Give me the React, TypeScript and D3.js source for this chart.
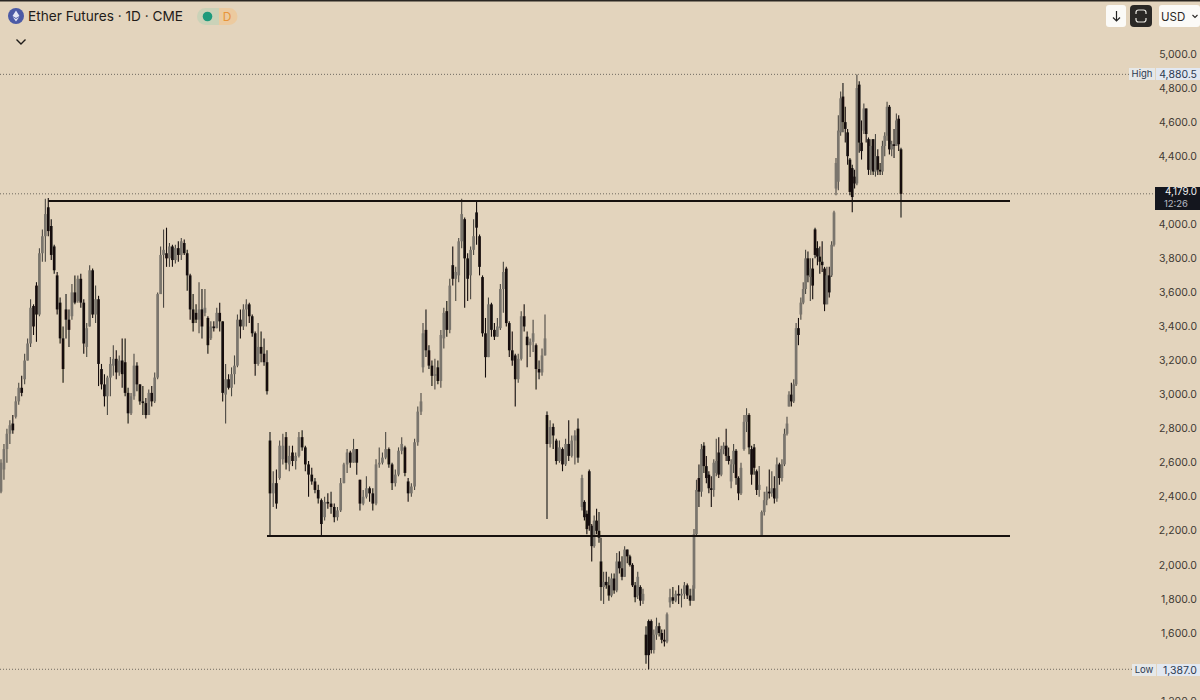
import React from 'react';
import * as d3 from 'd3';

type Bar = [number, number, number, number]; // open, high, low, close

// first climb and the range after it, up to the gap down
const legA: Bar[] = [
  [2430,2620,2420,2600],[2560,2710,2500,2680],[2680,2800,2600,2770],[2770,2850,2710,2820],[2830,2880,2770,2790],
  [2870,2990,2860,2960],[2960,3070,2940,3040],[3040,3110,2990,3010],[3090,3240,3060,3200],[3200,3330,3200,3300],
  [3300,3560,3280,3510],[3520,3530,3350,3400],[3640,3660,3310,3470],[3470,3860,3460,3830],[3830,3970,3780,3930],
  [3930,4150,3780,4060],[4100,4155,3930,3960],[3990,4030,3790,3820],[3870,3880,3710,3730],[3700,3720,3470,3500],
  [3540,3570,3300,3330],[3330,3400,3070,3150],[3500,3590,3330,3440],[3440,3500,3280,3380],[3460,3650,3440,3600],
  [3600,3700,3530,3540],[3550,3700,3540,3680],[3680,3710,3510,3540],[3540,3560,3240,3300],[3280,3420,3220,3390],
  [3400,3760,3400,3730],[3730,3740,3450,3470],[3470,3640,3420,3560],[3560,3580,3050,3180],[3150,3180,3030,3060],
  [3060,3120,2930,2990],[2990,3110,2880,3100],[3100,3220,2990,3180],[3170,3290,3110,3210],[3210,3260,3090,3130],
  [3130,3230,3110,3200],[3200,3330,3040,3120],[3190,3330,2990,3010],[3010,3040,2830,2890],[2890,3010,2880,2990],
  [2990,3240,2970,3170],[3170,3190,3020,3060],[3060,3060,2940,2960],[2960,3050,2880,2950],[2950,2980,2860,2880],
  [2880,3030,2880,3010],[3010,3050,2930,2960],[2960,3130,2950,3100],[3100,3600,3090,3590],[3590,3870,3590,3820],
  [3820,3970,3510,3850],[3830,3980,3750,3800],[3800,3890,3750,3870],[3870,3880,3750,3790],[3790,3880,3770,3860],
  [3860,3900,3780,3820],[3820,3920,3790,3900],[3890,3910,3820,3830],[3830,3850,3610,3700],[3700,3710,3440,3500],
  [3500,3590,3370,3420],[3480,3530,3420,3440],[3440,3660,3360,3500],[3500,3620,3330,3400],[3480,3620,3460,3510],
  [3450,3460,3240,3290],[3330,3430,3320,3400],[3400,3430,3370,3390],[3390,3510,3390,3480],[3480,3540,3370,3430],
  [3430,3430,2960,3010],[3000,3180,2830,3090],[3090,3120,3030,3040],[3040,3160,2990,3120],[3120,3230,3060,3170],
  [3170,3470,3160,3440],[3440,3500,3330,3400],[3400,3530,3380,3500],[3500,3560,3400,3530],[3530,3540,3420,3460],
  [3460,3470,3340,3360],[3360,3370,3110,3180],[3180,3420,3170,3280],[3280,3370,3190,3240],[3240,3330,3170,3190],
  [3190,3260,3000,3020],
];

const legB: Bar[] = [
  [2730,2780,2170,2420],[2420,2550,2340,2480],[2480,2560,2330,2360],[2510,2730,2500,2700],[2620,2770,2590,2700],
  [2750,2780,2560,2600],[2590,2700,2550,2640],[2660,2700,2580,2610],[2610,2660,2560,2640],[2640,2780,2630,2750],
  [2750,2790,2670,2690],[2690,2700,2550,2590],[2590,2610,2400,2530],[2530,2570,2470,2490],[2490,2510,2420,2440],
  [2440,2470,2360,2390],[2380,2390,2170,2240],[2280,2400,2260,2370],[2370,2420,2330,2360],[2360,2430,2300,2340],
  [2340,2360,2250,2280],[2280,2340,2260,2320],[2320,2510,2310,2480],[2480,2600,2480,2590],[2590,2680,2540,2660],
  [2660,2670,2570,2600],[2600,2740,2600,2680],[2680,2680,2530,2600],[2500,2500,2320,2360],[2360,2440,2350,2400],
  [2400,2520,2390,2450],[2450,2460,2370,2420],[2420,2450,2320,2360],[2360,2620,2350,2590],[2590,2690,2570,2600],
  [2600,2660,2590,2630],[2630,2780,2620,2680],[2680,2690,2570,2590],[2590,2600,2440,2480],[2480,2560,2460,2530],
  [2530,2690,2520,2670],[2670,2750,2650,2710],[2690,2700,2520,2540],[2490,2510,2370,2420],[2420,2480,2400,2460],
  [2460,2740,2440,2720],[2720,2930,2700,2900],[2900,3010,2880,2960],
];

const legC: Bar[] = [
  [3160,3420,3130,3360],[3380,3500,3220,3260],[3260,3290,3150,3170],[3170,3200,3050,3110],[3110,3210,3030,3120],
  [3160,3200,3060,3080],[3080,3380,3040,3350],[3330,3510,3270,3480],[3490,3550,3340,3380],[3380,3680,3360,3640],
  [3760,3870,3640,3680],[3680,3750,3550,3720],[3700,3920,3660,3900],[3900,4150,3860,4060],[4030,4040,3510,3800],
  [3800,3830,3550,3680],[3700,3870,3560,3850],[3850,4030,3820,3930],[4070,4140,3880,3980],[3930,3940,3700,3750],
  [3690,3700,3340,3360],[3360,3450,3100,3220],[3220,3570,3220,3530],[3530,3540,3340,3380],[3380,3420,3320,3340],
  [3340,3450,3340,3400],[3390,3650,3380,3620],[3620,3780,3480,3720],[3740,3750,3400,3420],[3420,3430,3220,3260],
  [3260,3370,3170,3200],[3230,3240,2930,3090],[3090,3240,3070,3210],[3210,3490,3200,3460],[3460,3530,3370,3400],
  [3340,3370,3160,3290],[3290,3330,3220,3310],[3310,3440,3250,3360],[3290,3300,3030,3150],[3150,3200,3090,3130],
  [3130,3270,3110,3230],[3230,3470,3230,3330],
];

const legD: Bar[] = [
  [2880,2900,2270,2710],[2710,2850,2690,2810],[2810,2830,2680,2760],[2730,2740,2590,2610],[2610,2730,2600,2690],
  [2680,2690,2550,2590],[2590,2740,2580,2710],[2710,2850,2610,2640],[2640,2760,2630,2730],[2730,2790,2590,2760],
  [2800,2860,2600,2630],
];

const legE: Bar[] = [
  [2340,2530,2320,2510],[2370,2380,2260,2280],[2300,2320,2180,2210],[2550,2560,2200,2230],[2230,2240,2020,2110],
  [2110,2290,2100,2260],[2260,2330,2180,2200],[2200,2310,2130,2160],
];

const legF: Bar[] = [
  [2020,2160,1790,1870],[1870,1960,1770,1900],[1900,1960,1860,1880],[1880,1930,1790,1820],[1820,1950,1810,1920],
  [1920,1950,1830,1850],[1850,2070,1840,2020],[2020,2080,1950,1980],[1980,2050,1910,1930],[1930,2110,1930,2090],
  [2090,2090,2010,2050],[2050,2060,1990,2000],[2000,2010,1870,1880],[1880,1900,1780,1810],[1820,1960,1800,1930],
  [1870,1880,1760,1790],[1790,1860,1770,1830],
];

const legG: Bar[] = [
  [1590,1640,1420,1470],[1670,1680,1387,1470],[1670,1680,1480,1500],[1500,1620,1480,1590],[1590,1690,1560,1640],
  [1640,1660,1580,1600],[1600,1620,1540,1560],[1560,1620,1520,1550],[1550,1720,1540,1710],
];

const legH: Bar[] = [
  [1780,1860,1750,1810],[1810,1870,1770,1790],[1790,1850,1780,1830],[1830,1880,1770,1820],[1820,1860,1750,1830],
  [1830,1900,1800,1880],[1880,1890,1800,1820],[1820,1860,1760,1790],[1790,1880,1790,1860],
];

const legI: Bar[] = [
  [1860,2210,1790,2180],[2180,2500,2170,2440],[2510,2590,2340,2430],[2430,2710,2400,2680],[2700,2720,2540,2580],
  [2580,2640,2480,2510],[2530,2550,2420,2450],[2450,2520,2340,2440],[2440,2620,2400,2600],[2540,2740,2520,2610],
  [2660,2750,2510,2530],[2530,2700,2520,2680],[2680,2720,2650,2700],[2700,2800,2610,2640],[2640,2690,2590,2610],
  [2490,2620,2450,2590],[2590,2710,2540,2670],[2670,2680,2470,2510],[2510,2520,2380,2420],[2420,2600,2410,2570],
];

const legJ: Bar[] = [
  [2680,2880,2670,2840],[2840,2920,2780,2880],[2880,2890,2650,2690],[2680,2700,2470,2530],[2690,2710,2530,2570],
  [2550,2560,2410,2440],[2440,2580,2400,2470],[2170,2320,2170,2310],[2310,2430,2290,2380],[2380,2460,2350,2430],
  [2430,2560,2390,2420],[2420,2550,2400,2450],[2450,2520,2360,2390],[2390,2630,2370,2590],[2590,2600,2470,2510],
  [2510,2620,2490,2590],[2590,2800,2580,2770],[2770,2870,2760,2830],
];

const legK: Bar[] = [
  [2930,3020,2930,3000],[3000,3070,2930,2960],[2960,3090,2950,3060],[3060,3420,3050,3390],[3390,3450,3290,3350],
  [3470,3570,3440,3540],[3540,3660,3530,3620],[3620,3850,3590,3800],[3800,3840,3660,3700],[3690,3800,3550,3740],
  [3740,3800,3560,3640],[3970,3980,3800,3820],[3860,3900,3760,3810],[3810,3870,3710,3780],[3780,3900,3720,3760],
  [3740,3750,3490,3530],[3530,3750,3530,3700],[3700,3750,3570,3600],[3700,3900,3690,3880],[3880,4080,3870,4070],
];

const legL: Bar[] = [
  [4210,4390,4170,4360],[4250,4640,4200,4550],[4540,4780,4520,4740],[4750,4830,4540,4600],[4600,4690,4480,4560],
  [4540,4560,4350,4400],[4380,4390,4170,4190],[4330,4350,4070,4160],[4280,4320,4210,4240],[4240,4880,4230,4800],
  [4820,4840,4420,4480],[4480,4610,4380,4430],[4550,4710,4530,4680],[4680,4680,4480,4530],[4500,4510,4290,4320],
  [4320,4500,4290,4460],[4500,4500,4290,4310],[4310,4530,4280,4400],[4400,4440,4290,4320],[4320,4360,4290,4310],
  [4310,4490,4290,4460],[4460,4540,4400,4520],[4520,4720,4490,4690],[4690,4700,4410,4440],[4440,4490,4400,4470],
  [4470,4560,4390,4460],[4460,4650,4460,4610],[4620,4640,4430,4470],[4440,4450,4040,4179],
];

const legs = [legA, legB, legC, legD, legE, legF, legG, legH, legI, legJ, legK, legL];
// where each leg starts and ends on screen, one pair per leg
const legSpans = [[1,267],[270,421],[423,545],[547,578],[582,599],[601,643],[646,667],[670,693],[694,741],[744,787],[789,834],[836,901]];

const priceTicks = [5000,4800,4600,4400,4000,3800,3600,3400,3200,3000,2800,2600,2400,2200,2000,1800,1600,1200];
const highPrice = 4880.5;
const lowPrice = 1387;
const lastPrice = 4179;
const countdown = '12:26';
const resistance = 4137;
const support = 2170;
const resistanceStart = 16; // bar index
const supportStart = 90;

const width = 1200;
const height = 700;
const levelEnd = 1010;
const fontFamily = 'Inter, "Noto Sans", sans-serif';
const bg = '#e3d4bd';
const upColor = '#7a756d';
const downColor = '#15110e';

const fmt = d3.format(',.1f');

export default function App() {
  const bars = legs.flat();

  // index -> x, piecewise because the legs are not evenly packed
  const xDomain: number[] = [];
  const xRange: number[] = [];
  let n = 0;
  legs.forEach((leg, i) => {
    xDomain.push(n, n + leg.length - 1);
    xRange.push(legSpans[i][0], legSpans[i][1]);
    n += leg.length;
  });
  const x = d3.scaleLinear().domain(xDomain).range(xRange);
  const y = d3.scaleLinear().domain([5000, 1600]).range([54, 633]);

  const dotted = [
    { p: highPrice, end: 1129 },
    { p: lastPrice, end: 1155 },
    { p: lowPrice, end: 1132 },
  ];

  return (
    <svg
      width={width}
      height={height}
      viewBox={`0 0 ${width} ${height}`}
      style={{ position: 'fixed', left: 0, top: 0, background: bg }}
      fontFamily={fontFamily}
    >
      <rect width={width} height={height} fill={bg} />
      <rect width={width} height={1.5} fill="#2a2622" />

      {dotted.map((d) => (
        <line key={d.p} x1={0} x2={d.end} y1={y(d.p)} y2={y(d.p)} stroke="#6f6a60" strokeWidth={1} strokeDasharray="1 2" />
      ))}

      <defs>
        <filter id="soft" x="-2%" y="-2%" width="104%" height="104%">
          <feGaussianBlur stdDeviation="0.35" />
        </filter>
      </defs>
      <g filter="url(#soft)">
        {bars.map(([o, h, l, c], i) => {
          const up = c >= o;
          const top = y(Math.max(o, c));
          const bottom = y(Math.min(o, c));
          return (
            <g key={i}>
              <line x1={x(i)} x2={x(i)} y1={y(h)} y2={y(l)} stroke={up ? '#4c4842' : downColor} strokeWidth={1.1} />
              <rect x={x(i) - 1.35} width={2.7} y={top} height={Math.max(1, bottom - top)} fill={up ? upColor : downColor} />
            </g>
          );
        })}
      </g>

      <line x1={x(resistanceStart)} x2={levelEnd} y1={y(resistance)} y2={y(resistance)} stroke="#17110e" strokeWidth={2} />
      <line x1={x(supportStart)} x2={levelEnd} y1={y(support)} y2={y(support)} stroke="#17110e" strokeWidth={2} />

      {/* title row */}
      <circle cx={16} cy={16} r={8} fill="#4b5aa6" />
      <path d="M16 10.5 L19.5 16 L16 18 L12.5 16 Z M12.8 17 L16 19 L19.2 17 L16 21.5 Z" fill="#e4e7f5" />
      <text x={28} y={21} fontSize={13.65} fill="#1f1c19">Ether Futures · 1D · CME</text>
      <path d="M197 16.5a8.5 8.5 0 0 1 8.5-8.5H219v17h-13.5a8.5 8.5 0 0 1-8.5-8.5Z" fill="#cad2b8" />
      <path d="M219 8h10a8.5 8.5 0 0 1 0 17h-10Z" fill="#ecca9f" />
      <circle cx={207.5} cy={16.5} r={4.8} fill="#1d9a7c" />
      <text x={227} y={20.5} fontSize={12} textAnchor="middle" fill="#e8953a">D</text>
      <path d="M16.5 39.5 L21 44 L25.5 39.5" fill="none" stroke="#1f1c19" strokeWidth={1.4} />

      {/* top right buttons */}
      <rect x={1106} y={5} width={20} height={22} rx={3} fill="#fbfaf7" />
      <path d="M1116.5 11 V21 M1113 17.5 L1116.5 21 L1120 17.5" fill="none" stroke="#222" strokeWidth={1.2} />
      <rect x={1130} y={5} width={22} height={22} rx={4} fill="#2a2826" />
      <path d="M1136 14 V12.5 a2.5 2.5 0 0 1 2.5 -2.5 H1143.5 a2.5 2.5 0 0 1 2.5 2.5 V14 M1136 18 V19.5 a2.5 2.5 0 0 0 2.5 2.5 H1143.5 a2.5 2.5 0 0 0 2.5 -2.5 V18" fill="none" stroke="#e8e6e0" strokeWidth={1.2} />
      <rect x={1159} y={5} width={41} height={22} rx={3} fill="#fbfaf7" />
      <text x={1161} y={20.5} fontSize={11.5} fill="#2a2826">USD</text>
      <path d="M1192.5 15 L1195 17.5 L1197.5 15" fill="none" stroke="#2a2826" strokeWidth={1.1} />

      {/* price axis */}
      {priceTicks.map((t) => (
        <text key={t} x={1197} y={y(t)} dy="0.35em" fontSize={10.5} textAnchor="end" fill="#3f3a33">{fmt(t)}</text>
      ))}

      {/* high / low / last tags */}
      <rect x={1129} y={68} width={26} height={12} fill="#e6e8e8" />
      <text x={1142} y={74} dy="0.35em" fontSize={9.5} textAnchor="middle" fill="#2c3a50">High</text>
      <rect x={1156} y={68} width={44} height={12} fill="#e2e8f1" />
      <text x={1197} y={74} dy="0.35em" fontSize={10.5} textAnchor="end" fill="#2c3a50">{fmt(highPrice)}</text>

      <rect x={1132} y={664} width={24} height={12} fill="#e6e8e8" />
      <text x={1144} y={670} dy="0.35em" fontSize={9.5} textAnchor="middle" fill="#2c3a50">Low</text>
      <rect x={1157} y={664} width={43} height={12} fill="#e2e8f1" />
      <text x={1197} y={670} dy="0.35em" fontSize={10.5} textAnchor="end" fill="#2c3a50">{fmt(lowPrice)}</text>

      <rect x={1155} y={187} width={45} height={23} fill="#14161e" />
      <text x={1197} y={192} dy="0.35em" fontSize={9.8} textAnchor="end" fill="#f2f2f2">{fmt(lastPrice)}</text>
      <text x={1188} y={203.5} dy="0.35em" fontSize={9.5} textAnchor="end" fill="#b9bcc4">{countdown}</text>
    </svg>
  );
}
